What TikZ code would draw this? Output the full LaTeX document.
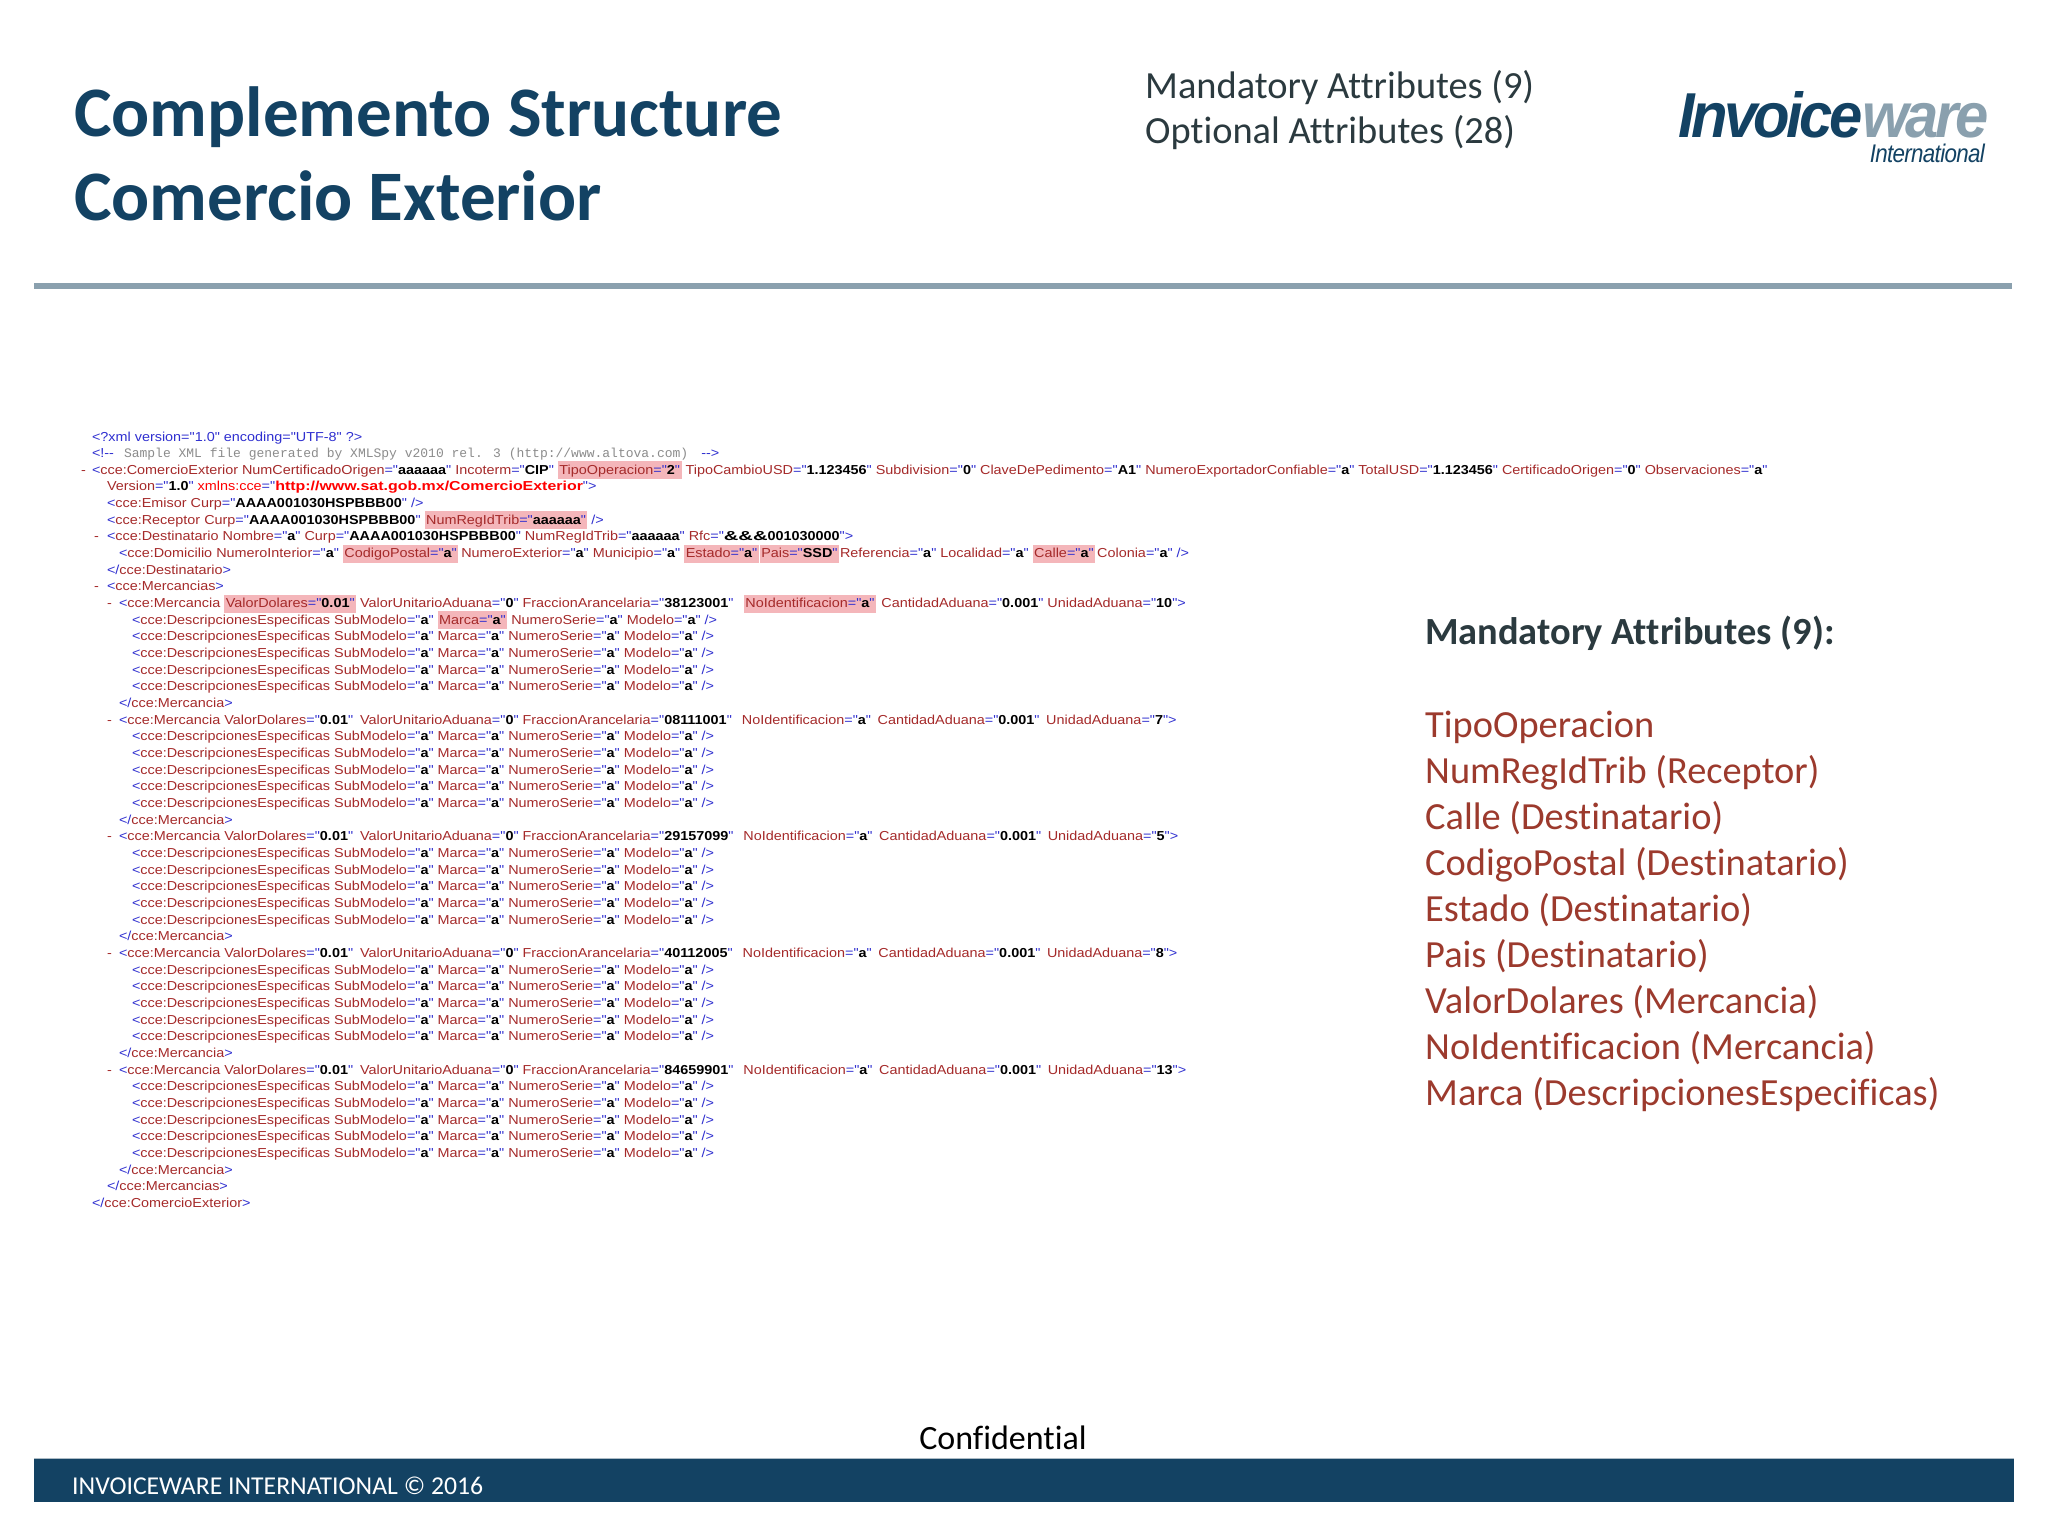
\documentclass[tikz,border=0pt]{standalone}
\usepackage{fontspec}
\setmainfont{Carlito}[Ligatures=NoCommon]
\newfontfamily\xf{Liberation Sans}[FakeStretch=1.108]
\newfontfamily\xm{Liberation Mono}
\newfontfamily\logofont{Liberation Sans}[LetterSpace=-6]
\newfontfamily\logosmall{Liberation Sans}[LetterSpace=-3]
\definecolor{navy}{HTML}{134263}
\definecolor{rulegray}{HTML}{8AA0AE}
\definecolor{headdark}{HTML}{2B3A3F}
\definecolor{listred}{HTML}{9C3A2D}
\definecolor{tagblue}{HTML}{2F2FD0}
\definecolor{attrred}{HTML}{A52A2A}
\definecolor{hlpink}{HTML}{F4B6BA}
\definecolor{cmtgray}{HTML}{8C8C8C}
\newcommand\tg[1]{\textcolor{tagblue}{#1}}
\newcommand\nm[1]{\textcolor{attrred}{#1}}
\newcommand\va[1]{\textcolor{black}{\bfseries #1}}
\newcommand\at[2]{\nm{#1}\tg{="}\va{#2}\tg{"}}
\newcommand\hl[2]{{\fboxsep=0pt\colorbox{hlpink}{\rule[-5pt]{0pt}{18pt}\kern1.5pt\at{#1}{#2}\kern1.5pt}}}
\newcommand\desc{\tg{<}\nm{cce:DescripcionesEspecificas} \at{SubModelo}{a} \at{Marca}{a} \at{NumeroSerie}{a} \at{Modelo}{a} \tg{/>}}
\newcommand\descm{\tg{<}\nm{cce:DescripcionesEspecificas} \at{SubModelo}{a} \hl{Marca}{a} \at{NumeroSerie}{a} \at{Modelo}{a} \tg{/>}}
\newcommand\merc[2]{\tg{<}\nm{cce:Mercancia} \at{ValorDolares}{0.01} \kern3pt\at{ValorUnitarioAduana}{0} \at{FraccionArancelaria}{#1} \kern6pt\at{NoIdentificacion}{a} \kern2.6pt\at{CantidadAduana}{0.001} \kern2.6pt\at{UnidadAduana}{#2}\tg{>}}
\newcommand\mercclose{\tg{</}\nm{cce:Mercancia}\tg{>}}
\newcommand\xline[4]{\node[xmltext] (#1) at (#2,{441+16.66*#3}) {#4};}
\newcommand\xminus[3]{\node[xmltext] (#1) at (#2,{441+16.66*#3}) {\nm{-}};}
\tikzset{
  xmltext/.style={anchor=base west,inner sep=0pt,outer sep=0pt,font=\fontsize{13}{14}\xf},
  listitem/.style={anchor=base west,inner sep=0pt,text=listred,font=\fontsize{38.4}{40}\selectfont},
  titletext/.style={anchor=base west,inner sep=0pt,text=navy,font=\fontsize{71}{74}\bfseries},
  toptext/.style={anchor=base west,inner sep=0pt,text=headdark,font=\fontsize{38.4}{40}\selectfont},
}
\begin{document}
\begin{tikzpicture}[x=1pt,y=-1pt]
\path[use as bounding box,fill=white] (0,0) rectangle (2048,1536);
\node[titletext] (t1) at (74,136) {Complemento Structure};
\node[titletext] (t2) at (74,220.5) {Comercio Exterior};
\node[toptext] (m1) at (1145,98.5) {Mandatory Attributes (9)};
\node[toptext] (m2) at (1145,144) {Optional Attributes (28)};
% logo
\node[anchor=base west,inner sep=0pt] (logo) at (1678,138) {\resizebox{310pt}{46pt}{\fontsize{66}{70}\logofont\bfseries\itshape\textcolor{navy}{Invoice}\textcolor{rulegray}{ware}}};
\node[anchor=base east,inner sep=0pt] (logo2) at (1985,163) {\resizebox{115pt}{18.5pt}{\fontsize{24}{26}\logosmall\itshape\textcolor{navy}{International}}};
\fill[rulegray] (34,282.5) rectangle (2012,288.5);
% xml
\xline{x0}{92}{0}{\tg{<?xml version="1.0" encoding="UTF-8" ?>}}
\xline{x1}{92}{1}{\tg{<!--}\hspace{6pt} {\xm\textcolor{cmtgray}{Sample XML file generated by XMLSpy v2010 rel. 3 (http://www.altova.com)}}\hspace{9pt} \tg{-->}}
\xminus{mr}{81}{2}
\xline{x2}{92}{2}{\tg{<}\nm{cce:ComercioExterior} \at{NumCertificadoOrigen}{aaaaaa} \at{Incoterm}{CIP} \hl{TipoOperacion}{2} \at{TipoCambioUSD}{1.123456} \at{Subdivision}{0} \at{ClaveDePedimento}{A1} \at{NumeroExportadorConfiable}{a} \at{TotalUSD}{1.123456} \at{CertificadoOrigen}{0} \at{Observaciones}{a}}
\xline{x3}{107}{3}{\at{Version}{1.0} \textcolor{red}{xmlns:cce}\tg{="}\scalebox{1.107}[1]{\textcolor{red}{\bfseries http://www.sat.gob.mx/ComercioExterior}}\tg{">}}
\xline{x4}{107}{4}{\tg{<}\nm{cce:Emisor} \at{Curp}{AAAA001030HSPBBB00} \tg{/>}}
\xline{x5}{107}{5}{\tg{<}\nm{cce:Receptor} \at{Curp}{AAAA001030HSPBBB00} \hl{NumRegIdTrib}{aaaaaa} \tg{/>}}
\xminus{md}{94}{6}
\xline{x6}{107}{6}{\tg{<}\nm{cce:Destinatario} \at{Nombre}{a} \at{Curp}{AAAA001030HSPBBB00} \at{NumRegIdTrib}{aaaaaa} \at{Rfc}{\scalebox{1.4}[1]{\&\&\&}001030000}\tg{>}}
\xline{x7}{119}{7}{\tg{<}\nm{cce:Domicilio} \at{NumeroInterior}{a} \hl{CodigoPostal}{a}\kern3pt\at{NumeroExterior}{a} \at{Municipio}{a} \hl{Estado}{a}\kern1pt\hl{Pais}{SSD}\kern1pt\at{Referencia}{a} \at{Localidad}{a} \hl{Calle}{a}\kern2pt\at{Colonia}{a} \tg{/>}}
\xline{x8}{107}{8}{\tg{</}\nm{cce:Destinatario}\tg{>}}
\xminus{mm}{94}{9}
\xline{x9}{107}{9}{\tg{<}\nm{cce:Mercancias}\tg{>}}
\xminus{ma}{107}{10}
\xline{x10}{119}{10}{\tg{<}\nm{cce:Mercancia} \hl{ValorDolares}{0.01} \at{ValorUnitarioAduana}{0} \at{FraccionArancelaria}{38123001} \kern6.5pt\hl{NoIdentificacion}{a} \kern1.3pt\at{CantidadAduana}{0.001} \at{UnidadAduana}{10}\tg{>}}
\xline{x11}{132}{11}{\descm}
\foreach \r in {12,13,14,15,18,19,20,21,22,25,26,27,28,29,32,33,34,35,36,39,40,41,42,43}{\xline{x\r}{132}{\r}{\desc}}
\foreach \r in {16,23,30,37,44}{\xline{x\r}{119}{\r}{\mercclose}}
\xminus{mb}{107}{17}\xline{x17}{119}{17}{\merc{08111001}{7}}
\xminus{mc}{107}{24}\xline{x24}{119}{24}{\merc{29157099}{5}}
\xminus{me}{107}{31}\xline{x31}{119}{31}{\merc{40112005}{8}}
\xminus{mf}{107}{38}\xline{x38}{119}{38}{\merc{84659901}{13}}
\xline{x45}{107}{45}{\tg{</}\nm{cce:Mercancias}\tg{>}}
\xline{x46}{92}{46}{\tg{</}\nm{cce:ComercioExterior}\tg{>}}
% right list
\node[anchor=base west,inner sep=0pt,text=headdark,font=\fontsize{38.4}{40}\bfseries] (h) at (1425,644) {Mandatory Attributes (9):};
\node[listitem] (l0) at (1425,737) {TipoOperacion};
\node[listitem] (l1) at (1425,783) {NumRegIdTrib (Receptor)};
\node[listitem] (l2) at (1425,829) {Calle (Destinatario)};
\node[listitem] (l3) at (1425,875) {CodigoPostal (Destinatario)};
\node[listitem] (l4) at (1425,921) {Estado (Destinatario)};
\node[listitem] (l5) at (1425,967) {Pais (Destinatario)};
\node[listitem] (l6) at (1425,1013) {ValorDolares (Mercancia)};
\node[listitem] (l7) at (1425,1059) {NoIdentificacion (Mercancia)};
\node[listitem] (l8) at (1425,1105) {Marca (DescripcionesEspecificas)};
\node[anchor=base,inner sep=0pt,font=\fontsize{34}{36}\selectfont] (conf) at (1003,1449) {Confidential};
\fill[navy] (34,1458) rectangle (2014,1502);
\draw[rulegray!70,line width=1pt] (34,1458) -- (2014,1458);
\node[anchor=base west,inner sep=0pt,text=white,font=\fontsize{25.7}{28}\selectfont] (foot) at (72,1494) {INVOICEWARE INTERNATIONAL © 2016};
\end{tikzpicture}
\end{document}
